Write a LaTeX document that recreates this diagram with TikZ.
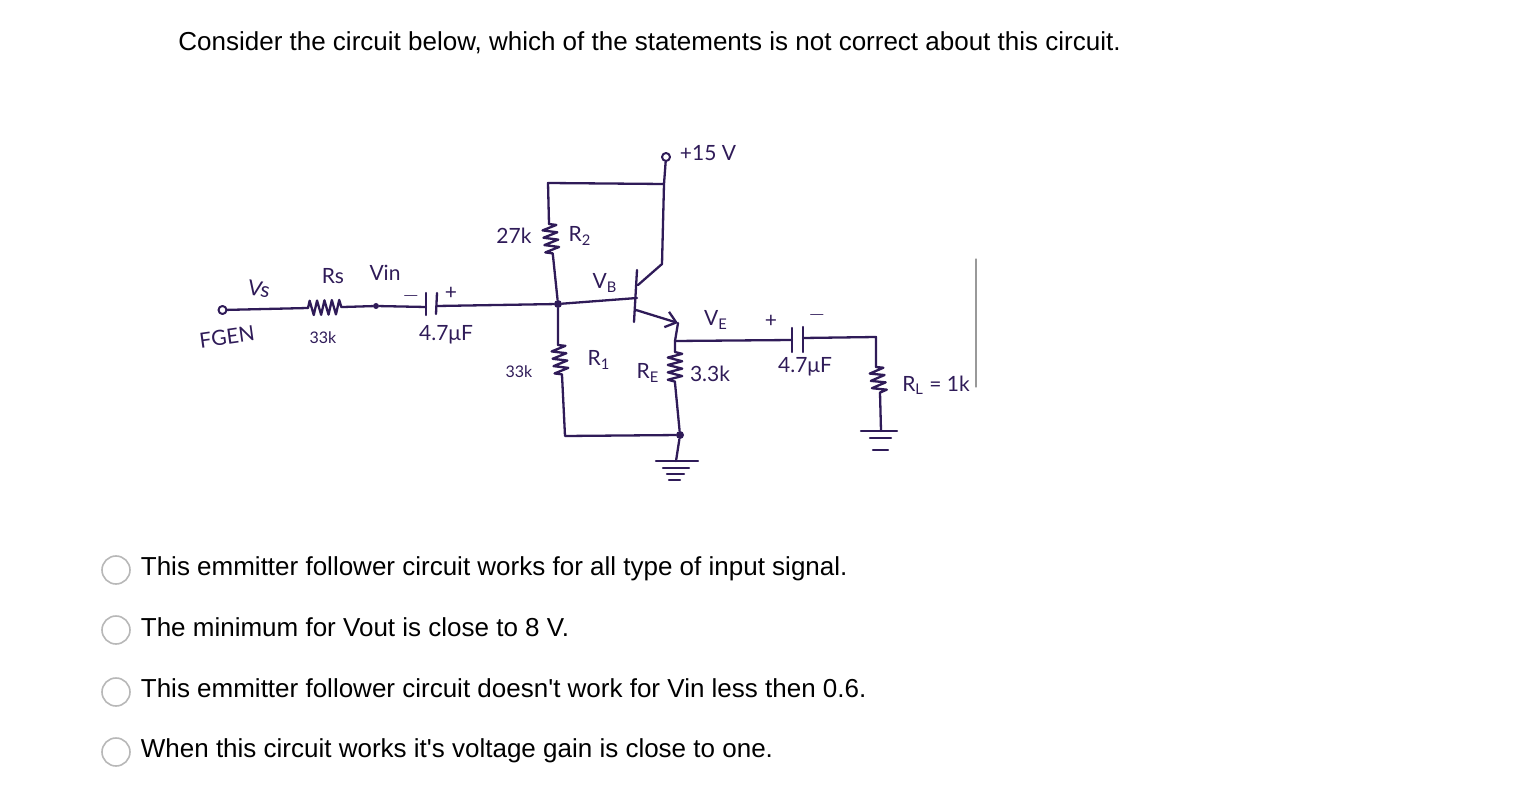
\documentclass[tikz,border=0pt]{standalone}
\usepackage{fontspec}
\setmainfont{Liberation Sans}
\newfontfamily\handfont{Lato}
\usetikzlibrary{decorations.pathmorphing,arrows.meta}
\definecolor{ink}{HTML}{2F1B58}
\begin{document}
\begin{tikzpicture}[x=0.5pt,y=-0.5pt,line join=round,line cap=round]
  \tikzstyle{wire}=[draw=ink,line width=1.15pt]
  \tikzstyle{resistor}=[wire,decorate,decoration={zigzag,amplitude=3.6pt,segment length=3.7pt}]
  \tikzstyle{junction}=[circle,fill=ink,minimum size=4pt,inner sep=0pt]
  \tikzstyle{terminal}=[circle,draw=ink,line width=1pt,fill=white,minimum size=4pt,inner sep=0pt]
  \tikzstyle{hand}=[text=ink,inner sep=0pt,font=\handfont\fontsize{10.5}{12}\selectfont]
  \tikzstyle{handsmall}=[hand,font=\handfont\fontsize{8}{10}\selectfont]
  \tikzstyle{radio}=[circle,draw=black!28,line width=0.8pt,fill=white,minimum size=14pt,inner sep=0pt]
  \tikzstyle{answer}=[anchor=base west,inner sep=0pt,font=\fontsize{13}{16}\selectfont]
  \useasboundingbox (0,0) rectangle (1519,796);

  % question
  \node[answer] (question) at (178,51) {Consider the circuit below, which of the statements is not correct about this circuit.};

  % input side
  \node[terminal] (fgen) at (222.5,310) {};
  \coordinate (rsa) at (308,308);
  \coordinate (rsb) at (343,307);
  \node[junction,minimum size=3pt] (vin) at (376,306) {};
  \coordinate (cia) at (426,307);
  \coordinate (cib) at (437,306);
  \node[junction] (base) at (558,304) {};
  \coordinate (bpin) at (637,298);
  \draw[wire] (fgen) -- (rsa);
  \draw[resistor] (rsa) -- (rsb);
  \draw[wire] (rsb) -- (vin) -- (cia);
  \draw[wire] (426,293) -- (426,315);
  \draw[wire] (437,293) -- (436,314);
  \draw[wire] (cib) -- (base) -- (bpin);

  % divider
  \node[terminal] (vcc) at (666,157) {};
  \coordinate (top) at (664,184);
  \coordinate (topl) at (548,183);
  \coordinate (rta) at (549,224);
  \coordinate (rtb) at (553,256);
  \coordinate (rba) at (558,345);
  \coordinate (rbb) at (562,375);
  \coordinate (botl) at (565,436);
  \node[junction] (bot) at (680,435) {};
  \draw[wire] (vcc) -- (top) -- (topl) -- (rta);
  \draw[resistor] (rta) -- (rtb);
  \draw[wire] (rtb) -- (base) -- (rba);
  \draw[resistor] (rba) -- (rbb);
  \draw[wire] (rbb) -- (botl) -- (bot);

  % transistor
  \coordinate (cpin) at (662,264);
  \coordinate (cbar) at (638,285);
  \coordinate (ebar) at (636,310);
  \coordinate (epin) at (678,323);
  \draw[wire] (637,270) -- (634,322);
  \draw[wire] (top) -- (cpin) -- (cbar);
  \draw[wire,-{Straight Barb[length=5pt,width=8pt]}] (ebar) -- (epin);

  % emitter and load
  \coordinate (enode) at (675,341);
  \coordinate (rea) at (675,352);
  \coordinate (reb) at (675,383);
  \coordinate (coa) at (792,340);
  \coordinate (cob) at (803,338);
  \coordinate (lcorner) at (876,337);
  \coordinate (rla) at (876,367);
  \coordinate (rlb) at (880,393);
  \coordinate (gnda) at (676,461);
  \coordinate (gndb) at (881,431);
  \draw[wire] (epin) -- (enode) -- (rea);
  \draw[resistor] (rea) -- (reb);
  \draw[wire] (reb) -- (bot) -- (gnda);
  \draw[wire] (enode) -- (coa);
  \draw[wire] (792,328) -- (792,352);
  \draw[wire] (803,327) -- (803,352);
  \draw[wire] (cob) -- (lcorner) -- (rla);
  \draw[resistor] (rla) -- (rlb);
  \draw[wire] (rlb) -- (gndb);

  % grounds
  \draw[wire] (656,461) -- (698,461);
  \draw[wire] (663,468) -- (689,468);
  \draw[wire] (667,474) -- (684,474);
  \draw[wire] (669,480) -- (680,480);
  \draw[wire] (861,431) -- (897,431);
  \draw[wire] (870,438) -- (891,438);
  \draw[wire] (873,450) -- (888,450);

  % edge of the figure
  \draw[black!40,line width=0.6pt] (976,259) -- (976,387);

  % hand labels
  \node[hand,rotate=-10] (vslabel) at (259,289) {Vs};
  \node[hand] (rslabel) at (333,276) {Rs};
  \node[hand] (vinlabel) at (385,273) {Vin};
  \node[hand] (cim) at (411,296) {$-$};
  \node[hand] (cip) at (451,293) {+};
  \node[hand,rotate=8] (fgenlabel) at (227,337) {FGEN};
  \node[handsmall] (rsval) at (323,338) {33k};
  \node[hand] (cival) at (446,335) {4.7μF};
  \node[hand] (rtval) at (514,236) {27k};
  \node[hand] (rtlabel) at (580,236) {R\textsubscript{2}};
  \node[hand] (vblabel) at (605,283) {V\textsubscript{B}};
  \node[hand] (velabel) at (716,320) {V\textsubscript{E}};
  \node[hand] (cop) at (771,321) {+};
  \node[hand] (com) at (817,315) {$-$};
  \node[handsmall] (rbval) at (519,372) {33k};
  \node[hand] (rblabel) at (599,360) {R\textsubscript{1}};
  \node[hand] (relabel) at (648,373) {R\textsubscript{E}};
  \node[hand] (reval) at (710,374) {3.3k};
  \node[hand] (coval) at (805,367) {4.7μF};
  \node[hand] (rllabel) at (936,385) {R\textsubscript{L} = 1k};
  \node[hand] (vcclabel) at (708,153) {+15 V};

  % choices
  \node[radio] (radioa) at (116,570) {};
  \node[radio] (radiob) at (116,630) {};
  \node[radio] (radioc) at (116,692) {};
  \node[radio] (radiod) at (116,752) {};
  \node[answer] (answera) at (140.5,575.5) {This emmitter follower circuit works for all type of input signal.};
  \node[answer] (answerb) at (140.5,636.5) {The minimum for Vout is close to 8 V.};
  \node[answer] (answerc) at (140.5,697.5) {This emmitter follower circuit doesn\textquotesingle t work for Vin less then 0.6.};
  \node[answer] (answerd) at (140.5,757.5) {When this circuit works it\textquotesingle s voltage gain is close to one.};
\end{tikzpicture}
\end{document}
